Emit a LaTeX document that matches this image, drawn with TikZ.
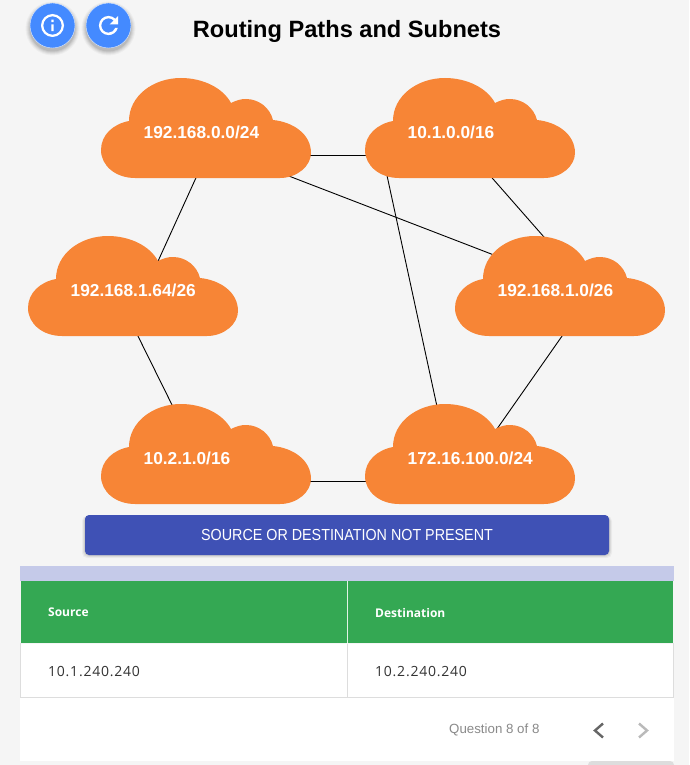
\documentclass[tikz,border=0pt]{standalone}
\usepackage{fontspec}
\setmainfont{Liberation Sans}
\newfontfamily\cellfont{Open Sans}
\newfontfamily\cellfontsp[LetterSpace=5.5]{Open Sans}
\usetikzlibrary{calc}
\definecolor{pagebg}{HTML}{F5F5F5}
\definecolor{cloudorange}{HTML}{F78536}
\definecolor{fabblue}{HTML}{448AFF}
\definecolor{indigobtn}{HTML}{3F51B5}
\definecolor{lilac}{HTML}{C5CAE9}
\definecolor{headgreen}{HTML}{34A853}
\definecolor{rulegrey}{HTML}{DDDDDD}
\definecolor{qgrey}{HTML}{8A8A8A}
\pgfdeclarelayer{edges}
\pgfsetlayers{edges,main}
\newcommand{\fsz}[1]{\fontsize{#1}{#1}\selectfont}
\newcommand{\cloudat}[1]{%
  \begin{scope}[shift={(#1.center)}]
  \fill[cloudorange]
      (-71,50) .. controls (-90,50) and (-105,38) .. (-105,22)
      .. controls (-105,7) and (-93,-4) .. (-77,-7)
      .. controls (-77,-32) and (-53,-50) .. (-25,-50)
      .. controls (-3,-50) and (17,-40) .. (25,-25)
      .. controls (31,-28) and (35,-29) .. (40,-29)
      .. controls (53,-29) and (64,-20) .. (67,-8)
      .. controls (87,-6) and (105,6) .. (105,25)
      .. controls (105,38) and (91,50) .. (74,50) -- cycle;
  \end{scope}}
\tikzset{
  cloudnode/.style={inner sep=0pt,outer sep=0pt,minimum width=210pt,minimum height=100pt},
  cloudlabel/.style={anchor=west,inner sep=0pt,text=white,font=\fsz{17.3}\bfseries},
  link/.style={draw=black,line width=0.9pt},
  fab/.style={circle,fill=fabblue,draw=white!80!fabblue,line width=0.4pt,minimum size=45pt,inner sep=0pt},
  headtext/.style={anchor=west,inner sep=0pt,text=white,font=\cellfont\fsz{12}\bfseries},
  celltext/.style={anchor=west,inner sep=0pt,text=black!80,font=\cellfontsp\fsz{14}},
  chevron/.style={line width=2.4pt,line cap=butt,line join=miter},
}
\begin{document}
\begin{tikzpicture}[x=1pt,y=-1pt]
\useasboundingbox (0,0) rectangle (689,765);
\begin{pgfonlayer}{edges}
\fill[pagebg] (0,0) rectangle (689,765);
\end{pgfonlayer}

% clouds
\node[cloudnode] (c1) at (206,128) {};
\node[cloudnode] (c2) at (470,128) {};
\node[cloudnode] (c3) at (133,286) {};
\node[cloudnode] (c4) at (560,286) {};
\node[cloudnode] (c5) at (206,454) {};
\node[cloudnode] (c6) at (470,454) {};
\cloudat{c1}\cloudat{c2}\cloudat{c3}\cloudat{c4}\cloudat{c5}\cloudat{c6}
\node[cloudlabel] (l1) at ($(c1)+(-62.5,4.7)$) {192.168.0.0/24};
\node[cloudlabel] (l2) at ($(c2)+(-62.5,4.7)$) {10.1.0.0/16};
\node[cloudlabel] (l3) at ($(c3)+(-62.5,4.7)$) {192.168.1.64/26};
\node[cloudlabel] (l4) at ($(c4)+(-62.5,4.7)$) {192.168.1.0/26};
\node[cloudlabel] (l5) at ($(c5)+(-62.5,4.7)$) {10.2.1.0/16};
\node[cloudlabel] (l6) at ($(c6)+(-62.5,4.7)$) {172.16.100.0/24};

% connectors, under the clouds
\begin{pgfonlayer}{edges}
\draw[link] ($(c1)+(94,27)$) -- ($(c2)+(-90,27)$);
\draw[link] ($(c5)+(94,27)$) -- ($(c6)+(-90,27)$);
\draw[link] ($(c1)+(62,40)$) -- ($(c4)+(-49,-24.4)$);
\draw[link] ($(c2)+(-87,29)$) -- ($(c6)+(-29,-29)$);
\draw[link] ($(c2)+(9,35)$) -- ($(c4)+(-2,-33)$);
\draw[link] ($(c4)+(14,33)$) -- ($(c6)+(15,-8)$);
\draw[link] ($(c1)+(-1,30)$) -- ($(c3)+(16,-5)$);
\draw[link] ($(c3)+(-4,32)$) -- ($(c5)+(-25,-31)$);
\end{pgfonlayer}

% round buttons
\foreach \cx in {52.5,108.5}{
  \foreach \r/\o in {27/0.03,26/0.04,25/0.05,24/0.06,23/0.08}{
    \fill[black,opacity=\o] (\cx,28.5) circle (\r);
  }
}
\node[fab] (info) at (52.5,25.5) {};
\node[fab] (reload) at (108.5,25.5) {};
\begin{scope}[shift={(info.center)},scale=1.15]
\fill[white,even odd rule] (0,0) circle (10) (0,0) circle (8)
  (-1,-5) rectangle (1,-3) (-1,-1) rectangle (1,5);
\end{scope}
\begin{scope}[shift={(reload.center)},scale=1.2]
\fill[white] (5.65,-5.65) .. controls (4.2,-7.1) and (2.21,-8) .. (0,-8)
  .. controls (-4.42,-8) and (-7.99,-4.42) .. (-7.99,0)
  .. controls (-7.99,4.42) and (-4.42,8) .. (0,8)
  .. controls (3.73,8) and (6.84,5.45) .. (7.73,2)
  -- (5.65,2)
  .. controls (4.83,4.33) and (2.61,6) .. (0,6)
  .. controls (-3.31,6) and (-6,3.31) .. (-6,0)
  .. controls (-6,-3.31) and (-3.31,-6) .. (0,-6)
  .. controls (1.66,-6) and (3.14,-5.31) .. (4.22,-4.22)
  -- (1,-1) -- (8,-1) -- (8,-8) -- cycle;
\end{scope}

% title
\node[inner sep=0pt,font=\fsz{23.6}\bfseries,text=black] (title) at (347,31) {Routing Paths and Subnets};

% action button
\foreach \k/\o in {3/0.04,2/0.06,1/0.08}{
  \fill[black,opacity=\o,rounded corners=5pt] (85-\k,515+1) rectangle (609+\k,555+\k);
}
\node[fill=indigobtn,rounded corners=4pt,minimum width=524pt,minimum height=40pt,inner sep=0pt,
  text=white,font=\fsz{16}] (action) at (347,535) {\scalebox{0.895}[1]{SOURCE OR DESTINATION NOT PRESENT}};

% table
\fill[lilac] (20,566) rectangle (674,580.5);
\fill[white] (20,644) rectangle (674,761);
\fill[headgreen] (21,581) rectangle (673,643);
\draw[rulegrey,line width=1pt] (20.5,643) -- (20.5,697.5) -- (673.5,697.5) -- (673.5,643);
\draw[rulegrey,line width=1pt] (347.5,644) -- (347.5,697);
\draw[white!85!headgreen,line width=1pt] (347.5,581) -- (347.5,643);
\node[headtext] (h1) at (48,612.5) {Source};
\node[headtext] (h2) at (375,612.5) {Destination};
\node[celltext] (d1) at (48,671.5) {10.1.240.240};
\node[celltext] (d2) at (375,671.5) {10.2.240.240};
\node[inner sep=0pt,anchor=west,text=qgrey,font=\fsz{13.3}] (q) at (449,729.5) {Question 8 of 8};
\draw[chevron,draw=black!60] (603,723.5) -- (595,730.5) -- (603,737.5);
\draw[chevron,draw=black!27] (639,723.5) -- (647,730.5) -- (639,737.5);
\fill[rulegrey] (588,766) -- (588,765) arc[start angle=180,end angle=270,radius=4] -- (670,761) arc[start angle=270,end angle=360,radius=4] -- (674,766) -- cycle;
\end{tikzpicture}
\end{document}
